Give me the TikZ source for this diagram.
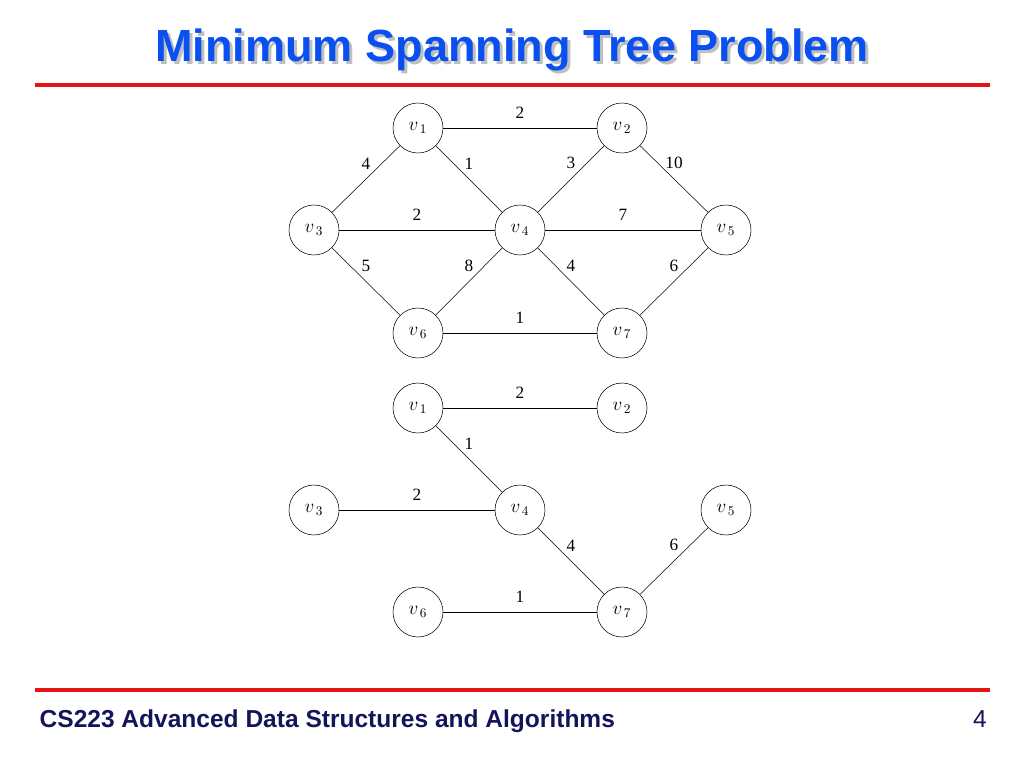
\documentclass[tikz,border=0pt]{standalone}
\usepackage{fontspec}
\setmainfont{Liberation Serif}
\newfontfamily\slidefont{Liberation Sans}
\newcommand{\vx}[1]{$v_{\,#1}$}
\definecolor{titleblue}{RGB}{10,80,240}
\definecolor{rulered}{RGB}{230,20,20}
\definecolor{footnavy}{RGB}{20,20,90}
\begin{document}
\begin{tikzpicture}[x=0.0265cm,y=-0.0265cm,
	vertex/.style={circle,draw,minimum size=50*0.0265cm,inner sep=0pt,font=\fontsize{14}{16}\selectfont},
	edge/.style={thin},
	wt/.style={above=4pt,font=\fontsize{13}{15}\selectfont}]
	\useasboundingbox (0,0) rectangle (1024,768);
	% title and rules
	\node[font=\slidefont\bfseries\fontsize{34}{40}\selectfont,text=gray!50] at (515,53) {Minimum Spanning Tree Problem};
	\node[font=\slidefont\bfseries\fontsize{34}{40}\selectfont,text=titleblue] (title) at (512,50) {Minimum Spanning Tree Problem};
	\draw[rulered,line width=3pt] (35,85) -- (990,85);
	\draw[rulered,line width=3pt] (35,690) -- (990,690);
	\node[font=\slidefont\bfseries\fontsize{18.5}{22}\selectfont,text=footnavy,anchor=west] (foot) at (35,721) {CS223 Advanced Data Structures and Algorithms};
	\node[font=\slidefont\fontsize{18.5}{22}\selectfont,text=footnavy] (page) at (980,719) {4};
	% full graph
	\node[vertex] (a1) at (418,128) {\vx1};
	\node[vertex] (a2) at (622,128) {\vx2};
	\node[vertex] (a3) at (314,230) {\vx3};
	\node[vertex] (a4) at (520,230) {\vx4};
	\node[vertex] (a5) at (726,230) {\vx5};
	\node[vertex] (a6) at (418,333) {\vx6};
	\node[vertex] (a7) at (622,333) {\vx7};
	\foreach \s/\t/\w in {1/2/2,3/1/4,1/4/1,4/2/3,2/5/10,3/4/2,4/5/7,3/6/5,6/4/8,4/7/4,7/5/6,6/7/1}
		\draw[edge] (a\s) -- node[wt] {\w} (a\t);
	% spanning tree
	\node[vertex] (b1) at (418,408) {\vx1};
	\node[vertex] (b2) at (622,408) {\vx2};
	\node[vertex] (b3) at (314,510) {\vx3};
	\node[vertex] (b4) at (520,510) {\vx4};
	\node[vertex] (b5) at (726,510) {\vx5};
	\node[vertex] (b6) at (418,612) {\vx6};
	\node[vertex] (b7) at (622,612) {\vx7};
	\foreach \s/\t/\w in {1/2/2,1/4/1,3/4/2,4/7/4,7/5/6,6/7/1}
		\draw[edge] (b\s) -- node[wt] {\w} (b\t);
\end{tikzpicture}
\end{document}
